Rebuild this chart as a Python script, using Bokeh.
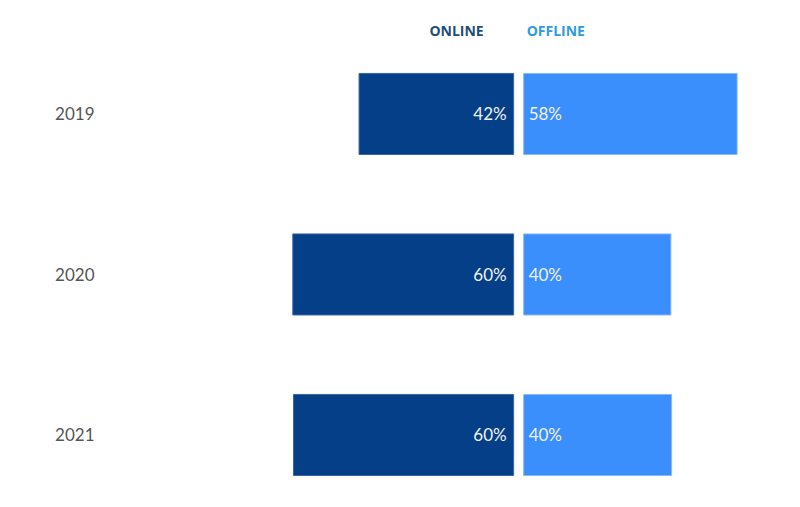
from bokeh.plotting import figure
from bokeh.models import ColumnDataSource, Range1d, FixedTicker
from bokeh.core.properties import value
from bokeh.embed import file_html
from bokeh.resources import INLINE

years = ["2019", "2020", "2021"]
online = [42, 60, 59.8]
offline = [58, 40, 40.2]
headers = ["ONLINE", "OFFLINE"]

GAP = 1.36
ypos = list(range(len(years)))

src = ColumnDataSource(dict(
    y=ypos,
    on_left=[-GAP - v for v in online],
    on_right=[-GAP] * len(years),
    off_left=[GAP] * len(years),
    off_right=[GAP + v for v in offline],
    on_txt=[f"{round(v)}%" for v in online],
    off_txt=[f"{round(v)}%" for v in offline],
    on_x=[-GAP] * len(years),
    off_x=[GAP] * len(years),
))

p = figure(width=792, height=499, output_backend="svg", toolbar_location=None,
           x_range=Range1d(-113.6, 74.4), y_range=Range1d(2.402, -0.657),
           min_border_left=100, min_border_right=0, min_border_top=8, min_border_bottom=0)
p.xaxis.visible = False
p.xgrid.visible = False
p.ygrid.visible = False
p.outline_line_color = None
p.background_fill_color = "white"
p.border_fill_color = "white"

ax = p.yaxis[0]
ax.ticker = FixedTicker(ticks=ypos)
ax.major_label_overrides = {i: y for i, y in zip(ypos, years)}
ax.axis_line_color = None
ax.major_tick_line_color = None
ax.minor_tick_line_color = None
ax.major_label_standoff = 0
ax.major_label_text_font = "Lato"
ax.major_label_text_font_size = "17px"
ax.major_label_text_color = "#555555"

p.hbar(y="y", left="on_left", right="on_right", height=0.505, source=src,
       fill_color="#043F87", line_color="#3a67a3", line_width=1)
p.hbar(y="y", left="off_left", right="off_right", height=0.505, source=src,
       fill_color="#3A8FFD", line_color="#8ab8f5", line_width=1)

p.text(x="on_x", y="y", text="on_txt", source=src, text_align="right",
       text_baseline="middle", x_offset=-7, text_color="#F2F2F2",
       text_font=value("Lato"), text_font_size="17px")
p.text(x="off_x", y="y", text="off_txt", source=src, text_align="left",
       text_baseline="middle", x_offset=5, text_color="#F2F2F2",
       text_font=value("Lato"), text_font_size="17px")

p.text(x=[-9.5], y=[-0.52], text=[headers[0]], text_color="#1F4E79",
       text_align="right", text_baseline="middle",
       text_font=value("Open Sans"), text_font_style="bold", text_font_size="14px")
p.text(x=[2.17], y=[-0.52], text=[headers[1]], text_color="#2D9BE0",
       text_align="left", text_baseline="middle",
       text_font=value("Open Sans"), text_font_style="bold", text_font_size="14px")

open("out.html", "w").write(file_html(p, INLINE))
